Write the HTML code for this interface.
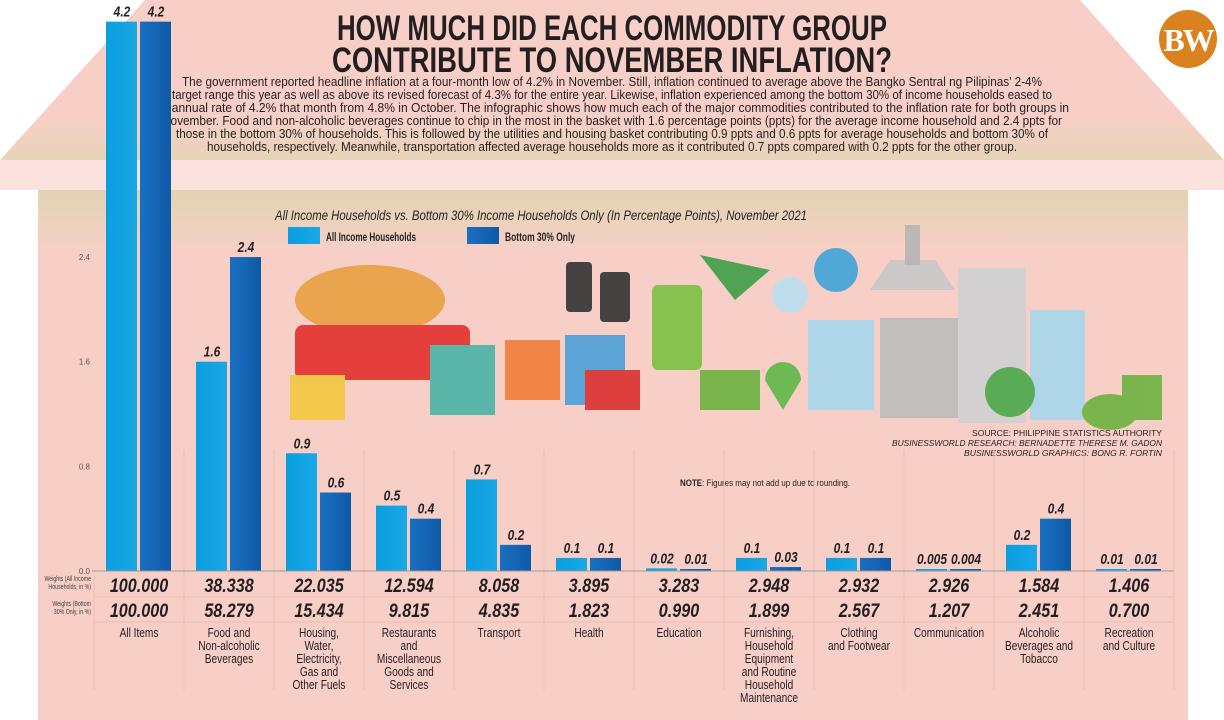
<!DOCTYPE html>
<html><head><meta charset="utf-8"><style>
body{margin:0;width:1224px;height:720px;overflow:hidden;background:#fff;font-family:"Liberation Sans Narrow","Liberation Sans",sans-serif;}
svg{display:block}
</style></head><body>
<svg id="c" width="1224" height="720">
<defs>
<linearGradient id="roofg" x1="0" y1="0" x2="0" y2="1"><stop offset="0.75" stop-color="#f8cfc6"/><stop offset="1" stop-color="#e6d4b8"/></linearGradient>
<linearGradient id="wallg" x1="0" y1="0" x2="0" y2="1"><stop offset="0" stop-color="#e2d4b4"/><stop offset="0.12" stop-color="#f8cfc6"/><stop offset="1" stop-color="#f8cfc6"/></linearGradient>
<linearGradient id="ga" x1="0" x2="1"><stop offset="0" stop-color="#0a9ee0"/><stop offset="1" stop-color="#1aa7e6"/></linearGradient>
<linearGradient id="gb" x1="0" x2="1"><stop offset="0" stop-color="#1a6fc0"/><stop offset="0.5" stop-color="#1565b5"/><stop offset="1" stop-color="#0d5aa6"/></linearGradient>
</defs>
<polygon points="0,160 145,0 1080,0 1224,160" fill="url(#roofg)"/>
<rect x="0" y="160" width="1224" height="30" fill="#fbe2de"/>
<rect x="38" y="190" width="1150" height="530" fill="url(#wallg)"/>
<circle cx="1188" cy="39" r="29" fill="#d9821e"/>
<text x="1188" y="51" text-anchor="middle" font-family="Liberation Serif,serif" font-weight="bold" font-size="32" fill="#fff" letter-spacing="-2">BW</text>
<g font-weight="bold" font-size="35" fill="#231f20" text-anchor="middle">
<text x="612" y="40" textLength="550" lengthAdjust="spacingAndGlyphs">HOW MUCH DID EACH COMMODITY GROUP</text>
<text x="612" y="72" textLength="560" lengthAdjust="spacingAndGlyphs">CONTRIBUTE TO NOVEMBER INFLATION?</text>
</g>
<g font-size="12.5" fill="#231f20" text-anchor="middle">
<text x="612" y="86" textLength="860" lengthAdjust="spacingAndGlyphs">The government reported headline inflation at a four-month low of 4.2% in November. Still, inflation continued to average above the Bangko Sentral ng Pilipinas’ 2-4%</text>
<text x="612" y="99" textLength="880" lengthAdjust="spacingAndGlyphs">target range this year as well as above its revised forecast of 4.3% for the entire year. Likewise, inflation experienced among the bottom 30% of income households eased to</text>
<text x="612" y="112" textLength="914" lengthAdjust="spacingAndGlyphs">an annual rate of 4.2% that month from 4.8% in October. The infographic shows how much each of the major commodities contributed to the inflation rate for both groups in</text>
<text x="612" y="125" textLength="900" lengthAdjust="spacingAndGlyphs">November. Food and non-alcoholic beverages continue to chip in the most in the basket with 1.6 percentage points (ppts) for the average income household and 2.4 ppts for</text>
<text x="612" y="138" textLength="872" lengthAdjust="spacingAndGlyphs">those in the bottom 30% of households. This is followed by the utilities and housing basket contributing 0.9 ppts and 0.6 ppts for average households and bottom 30% of</text>
<text x="612" y="151" textLength="810" lengthAdjust="spacingAndGlyphs">households, respectively. Meanwhile, transportation affected average households more as it contributed 0.7 ppts compared with 0.2 ppts for the other group.</text>
</g>
<text x="275" y="220" font-style="italic" font-size="14" fill="#231f20" textLength="532" lengthAdjust="spacingAndGlyphs">All Income Households vs. Bottom 30% Income Households Only (In Percentage Points), November 2021</text>
<rect x="288" y="227" width="32" height="17" fill="url(#ga)"/>
<text x="326" y="241" font-weight="bold" font-size="11.5" fill="#231f20" textLength="90" lengthAdjust="spacingAndGlyphs">All Income Households</text>
<rect x="467" y="227" width="32" height="17" fill="url(#gb)"/>
<text x="505" y="241" font-weight="bold" font-size="11.5" fill="#231f20" textLength="70" lengthAdjust="spacingAndGlyphs">Bottom 30% Only</text>
<g opacity="0.9">
<ellipse cx="370" cy="300" rx="75" ry="35" fill="#e8a040"/>
<rect x="295" y="325" width="175" height="55" rx="8" fill="#e2302c"/>
<rect x="290" y="375" width="55" height="45" fill="#f3c63f"/>
<rect x="430" y="345" width="65" height="70" fill="#4bb4a8"/>
<rect x="505" y="340" width="55" height="60" fill="#f07e3a"/>
<rect x="565" y="335" width="60" height="70" fill="#4aa0d8"/>
<rect x="566" y="262" width="26" height="50" rx="4" fill="#333"/>
<rect x="600" y="272" width="30" height="50" rx="4" fill="#333"/>
<rect x="585" y="370" width="55" height="40" fill="#d93030"/>
<rect x="652" y="285" width="50" height="85" rx="6" fill="#7bc043"/>
<polygon points="700,255 770,270 735,300" fill="#3e9e48"/>
<rect x="700" y="370" width="60" height="40" fill="#6cb33f"/>
<circle cx="790" cy="295" r="18" fill="#b9dff0"/>
<path d="M765,380 a18,18 0 0 1 36,0 l-18,30z" fill="#5fb848"/>
<circle cx="836" cy="270" r="22" fill="#3fa3d8"/>
<rect x="808" y="320" width="66" height="90" fill="#a8d6ec"/>
<polygon points="870,290 955,290 935,260 890,260" fill="#c8c8c8"/>
<rect x="905" y="225" width="15" height="40" fill="#b5b5b5"/>
<rect x="880" y="318" width="78" height="100" fill="#bdbdbd"/>
<rect x="958" y="268" width="68" height="155" fill="#cfd1d3"/>
<rect x="1030" y="310" width="55" height="110" fill="#a8d6ec"/>
<circle cx="1010" cy="392" r="25" fill="#4aa84a"/>
<ellipse cx="1110" cy="412" rx="28" ry="18" fill="#6cb33f"/>
<rect x="1122" y="375" width="40" height="45" fill="#6cb33f"/>
</g>
<g font-size="8.5" fill="#231f20" text-anchor="end">
<text x="1162" y="436" textLength="190" lengthAdjust="spacingAndGlyphs">SOURCE: PHILIPPINE STATISTICS AUTHORITY</text>
<text x="1162" y="446" font-style="italic" textLength="270" lengthAdjust="spacingAndGlyphs">BUSINESSWORLD RESEARCH: BERNADETTE THERESE M. GADON</text>
<text x="1162" y="456" font-style="italic" textLength="198" lengthAdjust="spacingAndGlyphs">BUSINESSWORLD GRAPHICS: BONG R. FORTIN</text>
</g>
<text x="680" y="486" font-size="9.5" fill="#231f20" textLength="170" lengthAdjust="spacingAndGlyphs"><tspan font-weight="bold">NOTE</tspan>: Figures may not add up due to rounding.</text>
<g id="chart"></g>
</svg>
<script>
const categories=["All Items","Food and|Non-alcoholic|Beverages","Housing,|Water,|Electricity,|Gas and|Other Fuels","Restaurants|and|Miscellaneous|Goods and|Services","Transport","Health","Education","Furnishing,|Household|Equipment|and Routine|Household|Maintenance","Clothing|and Footwear","Communication","Alcoholic|Beverages and|Tobacco","Recreation|and Culture"];
const allIncome=[4.2,1.6,0.9,0.5,0.7,0.1,0.02,0.1,0.1,0.005,0.2,0.01];
const bottom30=[4.2,2.4,0.6,0.4,0.2,0.1,0.01,0.03,0.1,0.004,0.4,0.01];
const allLabels=["4.2","1.6","0.9","0.5","0.7","0.1","0.02","0.1","0.1","0.005","0.2","0.01"];
const bottomLabels=["4.2","2.4","0.6","0.4","0.2","0.1","0.01","0.03","0.1","0.004","0.4","0.01"];
const weightsAll=["100.000","38.338","22.035","12.594","8.058","3.895","3.283","2.948","2.932","2.926","1.584","1.406"];
const weightsBottom=["100.000","58.279","15.434","9.815","4.835","1.823","0.990","1.899","2.567","1.207","2.451","0.700"];
const yTicks=[0,0.8,1.6,2.4];
const yTickLabels=["0.0","0.8","1.6","2.4"];

const NS="http://www.w3.org/2000/svg";
const g=document.getElementById('chart');
const x0=94,colW=90,yBase=571,pxPerUnit=130.8;
const y=v=>yBase-v*pxPerUnit;
const xc=i=>x0+colW*i+colW/2;
function mk(tag,attrs,txt,parent){const e=document.createElementNS(NS,tag);for(const k in attrs)e.setAttribute(k,attrs[k]);if(txt!=null)e.textContent=txt;(parent||g).appendChild(e);return e;}
// condensed text: group translated to (x,y) and scaled horizontally
function ctext(x,yy,sx,attrs,txt){const gg=mk('g',{transform:`translate(${x},${yy}) scale(${sx},1)`});const t=mk('text',Object.assign({x:0,y:0,'text-anchor':'middle'},attrs),txt,gg);return t;}

yTicks.forEach((t,i)=>{
 const e=mk('text',{x:90,y:y(t)+3,'text-anchor':'end','font-size':8,fill:'#555'},yTickLabels[i]);
 
 
});
for(let i=0;i<=categories.length;i++){
 const l=mk('line',{x1:x0+colW*i,x2:x0+colW*i,y1:i==0?575:450,y2:690,stroke:'#ebbdb3','stroke-width':1});
 
 
}
[597,622].forEach(yy=>{const l=mk('line',{x1:x0,x2:x0+colW*12,y1:yy,y2:yy,stroke:'#ebbdb3'});
 
 });
categories.forEach((c,i)=>{
 const cx=xc(i);
 const ha=Math.max(y(0)-y(allIncome[i]),2), hb=Math.max(y(0)-y(bottom30[i]),2);
 const a=mk('rect',{x:cx-33,y:yBase-ha,width:31,height:ha,fill:'url(#ga)'});
 
 
 const b=mk('rect',{x:cx+1,y:yBase-hb,width:31,height:hb,fill:'url(#gb)'});
 
 
 const ta=ctext(cx-17,yBase-ha-5,0.8,{'font-size':15,'font-style':'italic','font-weight':'bold',fill:'#231f20'},allLabels[i]);
 
 
 const tb=ctext(cx+17,yBase-hb-5,0.8,{'font-size':15,'font-style':'italic','font-weight':'bold',fill:'#231f20'},bottomLabels[i]);
 
 
 const w1=ctext(cx,592,0.85,{'font-size':19,'font-style':'italic','font-weight':'bold',fill:'#231f20'},weightsAll[i]);
 
 
 const w2=ctext(cx,617,0.85,{'font-size':19,'font-style':'italic','font-weight':'bold',fill:'#231f20'},weightsBottom[i]);
 
 
 c.split('|').forEach((ln,k)=>{
  const t=ctext(cx,637+k*13,0.78,{'font-size':13,fill:'#231f20'},ln);
  
  
 });
});
const ax=mk('line',{x1:92,x2:x0+colW*12,y1:yBase,y2:yBase,stroke:'#999','stroke-width':1});


[["Weights (All Income",581],["Households, in %)",589],["Weights (Bottom",606],["30% Only, in %)",614]].forEach(([t,yy])=>{
 const gg=mk('g',{transform:`translate(91,${yy}) scale(0.7,1)`});
 const e=mk('text',{x:0,y:0,'text-anchor':'end','font-size':7.5,fill:'#444'},t,gg);
 
 
});
</script>
</body></html>
